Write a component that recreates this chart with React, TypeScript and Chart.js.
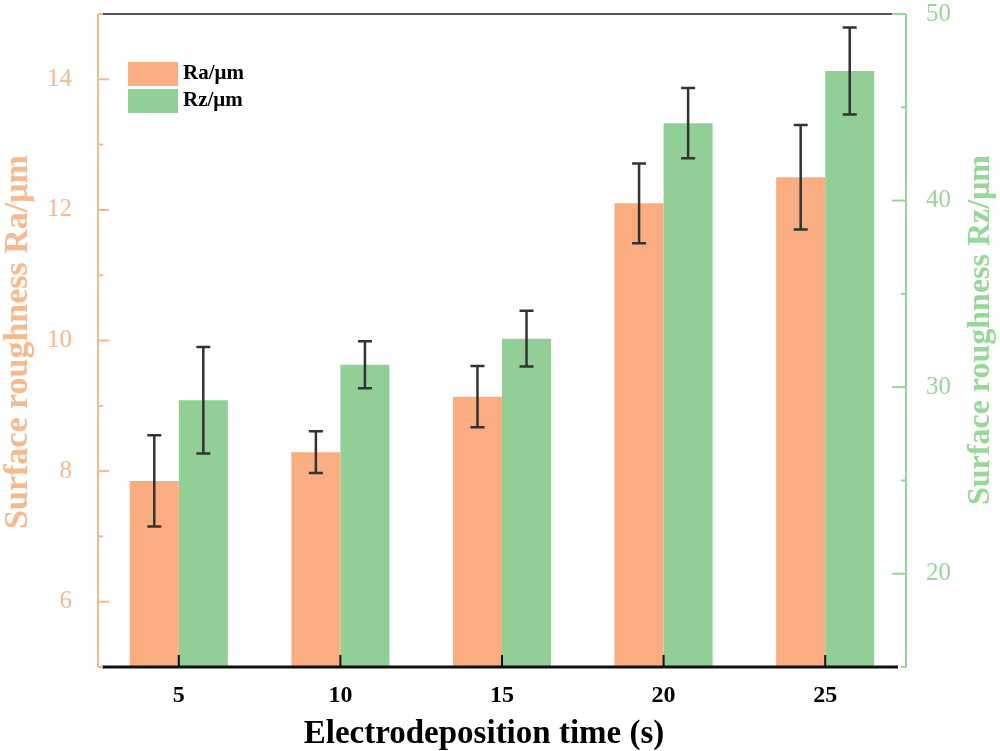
import React, { useEffect, useRef } from "react";
import { Chart, registerables } from "chart.js";

Chart.register(...registerables);

const categories = ["5", "10", "15", "20", "25"];
const raValues = [7.85, 8.29, 9.14, 12.1, 12.5];
const raErrors = [0.7, 0.32, 0.47, 0.61, 0.8];
const rzValues = [29.3, 31.2, 32.6, 44.15, 46.95];
const rzErrors = [2.85, 1.26, 1.5, 1.88, 2.33];
const raLabelTicks = [6, 8, 10, 12, 14];
const rzLabelTicks = [20, 30, 40, 50];

const FONT = "'Liberation Serif', 'Times New Roman', serif";
const ORANGE_BAR = "#FAAD80";
const GREEN_BAR = "#92CF96";
const ORANGE_TXT = "#F8B98C";
const GREEN_TXT = "#96D896";

const noPad = (s: any) => {
  s.paddingTop = 0;
  s.paddingBottom = 0;
  s.paddingLeft = 0;
  s.paddingRight = 0;
};

const decorPlugin = {
  id: "decor",
  afterDatasetsDraw(chart: any) {
    const ctx = chart.ctx;
    const area = chart.chartArea;
    const x = chart.scales.x;
    const y = chart.scales.y;
    const y1 = chart.scales.y1;
    ctx.save();
    const drawErr = (dsIndex: number, vals: number[], errs: number[], scale: any) => {
      const meta = chart.getDatasetMeta(dsIndex);
      ctx.strokeStyle = "#333333";
      ctx.lineWidth = 2.5;
      meta.data.forEach((el: any, i: number) => {
        const cx = el.x;
        const yt = scale.getPixelForValue(vals[i] + errs[i]);
        const yb = scale.getPixelForValue(vals[i] - errs[i]);
        ctx.beginPath();
        ctx.moveTo(cx, yt);
        ctx.lineTo(cx, yb);
        ctx.moveTo(cx - 7, yt);
        ctx.lineTo(cx + 7, yt);
        ctx.moveTo(cx - 7, yb);
        ctx.lineTo(cx + 7, yb);
        ctx.stroke();
      });
    };
    drawErr(0, raValues, raErrors, y);
    drawErr(1, rzValues, rzErrors, y1);

    ctx.strokeStyle = "#555555";
    ctx.lineWidth = 2;
    ctx.beginPath();
    ctx.moveTo(area.left, area.top);
    ctx.lineTo(area.right - 14, area.top);
    ctx.stroke();

    ctx.strokeStyle = "#111111";
    ctx.lineWidth = 3;
    ctx.beginPath();
    ctx.moveTo(area.left + 4, area.bottom);
    ctx.lineTo(area.right - 8, area.bottom);
    ctx.stroke();
    ctx.lineWidth = 2;
    categories.forEach((_, i) => {
      const px = x.getPixelForValue(i);
      ctx.beginPath();
      ctx.moveTo(px, area.bottom);
      ctx.lineTo(px, area.bottom - 12);
      ctx.stroke();
    });

    ctx.strokeStyle = ORANGE_TXT;
    ctx.lineWidth = 2;
    ctx.beginPath();
    ctx.moveTo(area.left, area.top);
    ctx.lineTo(area.left, area.bottom);
    ctx.stroke();
    y.ticks.forEach((t: any) => {
      const py = y.getPixelForValue(t.value);
      const major = raLabelTicks.includes(t.value);
      ctx.beginPath();
      ctx.moveTo(area.left, py);
      ctx.lineTo(area.left + (major ? 11 : 5), py);
      ctx.stroke();
    });

    ctx.strokeStyle = GREEN_TXT;
    ctx.beginPath();
    ctx.moveTo(area.right, area.top);
    ctx.lineTo(area.right, area.bottom);
    ctx.stroke();
    y1.ticks.forEach((t: any) => {
      const py = y1.getPixelForValue(t.value);
      const major = rzLabelTicks.includes(t.value);
      ctx.beginPath();
      ctx.moveTo(area.right, py);
      ctx.lineTo(area.right - (major ? 14 : 5), py);
      ctx.stroke();
    });

    ctx.textAlign = "center";
    ctx.textBaseline = "middle";
    ctx.fillStyle = "#000000";
    ctx.font = `bold 33px ${FONT}`;
    ctx.fillText("Electrodeposition time (s)", 484, 734);

    ctx.save();
    ctx.translate(18, 342);
    ctx.rotate(-Math.PI / 2);
    ctx.fillStyle = ORANGE_TXT;
    ctx.font = `bold 34px ${FONT}`;
    ctx.fillText("Surface roughness Ra/\u03bcm", 0, 0);
    ctx.restore();

    ctx.save();
    ctx.translate(981, 330);
    ctx.rotate(-Math.PI / 2);
    ctx.fillStyle = GREEN_TXT;
    ctx.font = `bold 32px ${FONT}`;
    ctx.fillText("Surface roughness Rz/\u03bcm", 0, 0);
    ctx.restore();

    const labels = ["Ra/\u03bcm", "Rz/\u03bcm"];
    const colors = [ORANGE_BAR, GREEN_BAR];
    ctx.textAlign = "left";
    ctx.font = `bold 21px ${FONT}`;
    labels.forEach((lab, i) => {
      const top = 62 + i * 27;
      ctx.fillStyle = colors[i];
      ctx.fillRect(128, top, 50, 24);
      ctx.fillStyle = "#000000";
      ctx.fillText(lab, 183, top + 12);
    });
    ctx.restore();
  },
};

export default function App() {
  const ref = useRef<HTMLCanvasElement>(null);
  useEffect(() => {
    if (!ref.current) return;
    const chart = new Chart(ref.current, {
      type: "bar",
      data: {
        labels: categories,
        datasets: [
          {
            label: "Ra/\u03bcm",
            data: raValues,
            backgroundColor: ORANGE_BAR,
            yAxisID: "y",
            categoryPercentage: 0.607,
            barPercentage: 1,
          },
          {
            label: "Rz/\u03bcm",
            data: rzValues,
            backgroundColor: GREEN_BAR,
            yAxisID: "y1",
            categoryPercentage: 0.607,
            barPercentage: 1,
          },
        ],
      },
      options: {
        responsive: false,
        animation: false,
        devicePixelRatio: 1,
        layout: { padding: { top: 14, left: 0, right: 0, bottom: 0 } },
        plugins: { legend: { display: false }, tooltip: { enabled: false } },
        scales: {
          x: {
            grid: { display: false },
            border: { display: false },
            ticks: {
              color: "#000000",
              font: { family: FONT, size: 24, weight: "bold" },
              padding: 6,
            },
            afterFit: (s: any) => {
              s.height = 84;
              noPad(s);
            },
          },
          y: {
            position: "left",
            min: 5,
            max: 15,
            grid: { display: false },
            border: { display: false },
            ticks: {
              stepSize: 1,
              autoSkip: false,
              color: ORANGE_TXT,
              font: { family: FONT, size: 25 },
              padding: 18,
              callback: (v: any) => (raLabelTicks.includes(Number(v)) ? String(v) : ""),
            },
            afterFit: (s: any) => {
              s.width = 98;
              noPad(s);
            },
          },
          y1: {
            position: "right",
            min: 15,
            max: 50,
            grid: { display: false },
            border: { display: false },
            ticks: {
              stepSize: 5,
              autoSkip: false,
              color: GREEN_TXT,
              font: { family: FONT, size: 25 },
              padding: 12,
              callback: (v: any) => (rzLabelTicks.includes(Number(v)) ? String(v) : ""),
            },
            afterFit: (s: any) => {
              s.width = 94;
              noPad(s);
            },
          },
        },
      },
      plugins: [decorPlugin],
    } as any);
    return () => chart.destroy();
  }, []);
  return (
    <div style={{ position: "absolute", left: 0, top: 0, width: 1000, height: 751, background: "#fff" }}>
      <canvas ref={ref} width={1000} height={751} />
    </div>
  );
}
